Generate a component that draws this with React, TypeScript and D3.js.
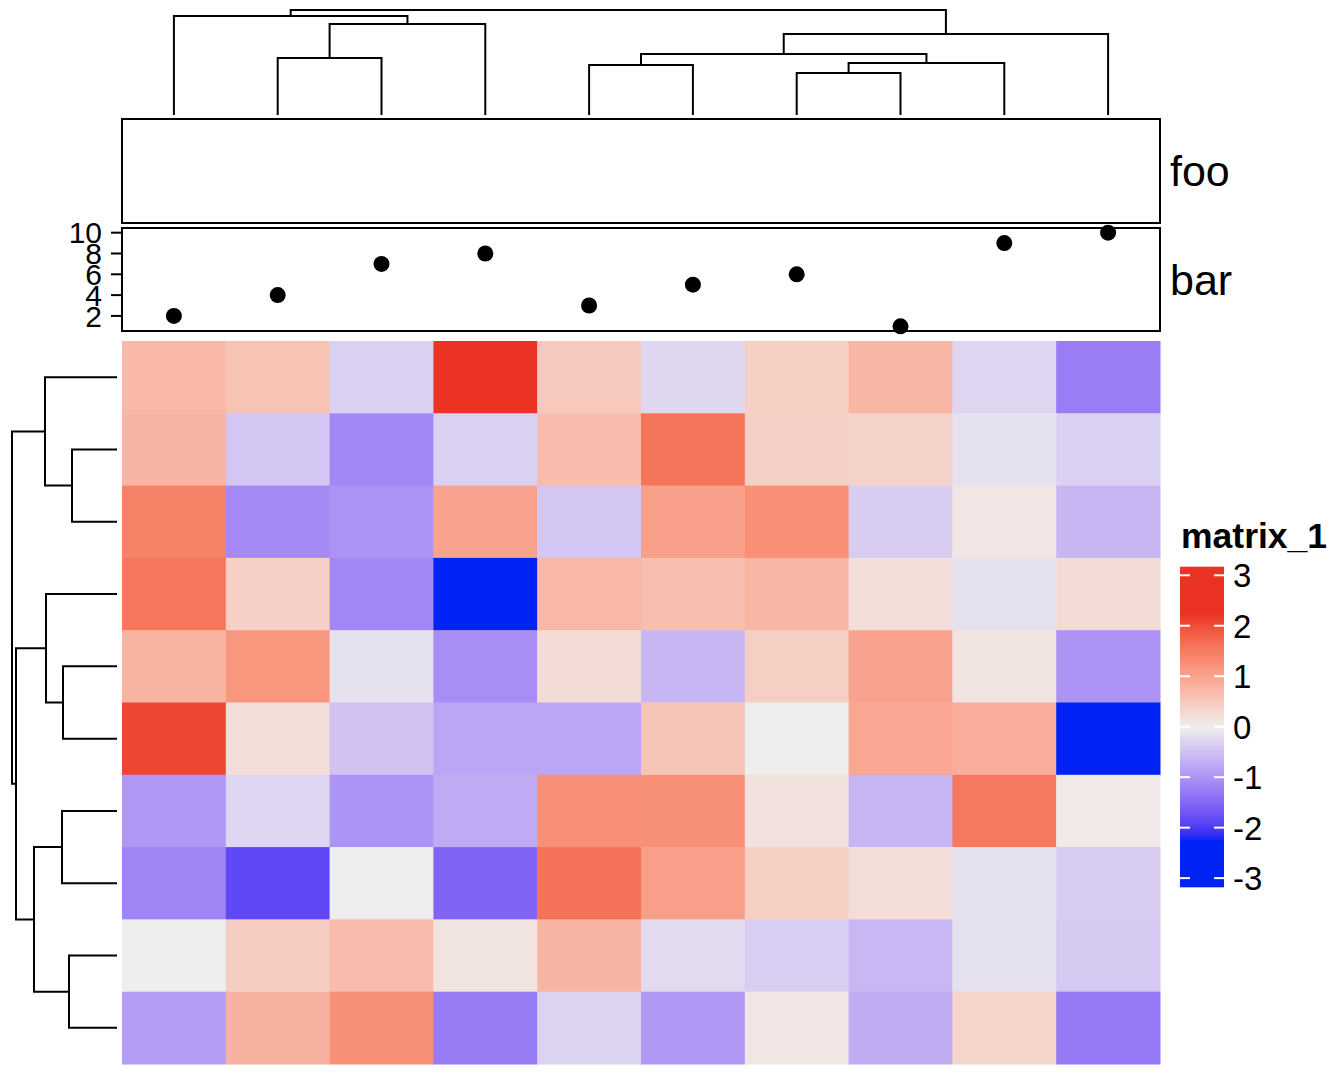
import React from "react";
import * as d3 from "d3";

// ---------- data ----------
// heatmap values, rows top->bottom, columns left->right (display order)
const matrix1: number[][] = [
  [0.72, 0.59, -0.32, 3.0, 0.5, -0.25, 0.43, 0.77, -0.27, -1.24],
  [0.79, -0.43, -1.13, -0.32, 0.68, 1.6, 0.41, 0.38, -0.14, -0.32],
  [1.44, -1.1, -1.01, 1.01, -0.43, 1.06, 1.28, -0.36, 0.11, -0.61],
  [1.58, 0.41, -1.13, -3.0, 0.74, 0.65, 0.77, 0.23, -0.14, 0.25],
  [0.81, 1.19, -0.14, -1.06, 0.25, -0.61, 0.43, 1.01, 0.14, -0.99],
  [2.09, 0.23, -0.47, -0.8, -0.8, 0.56, 0.02, 0.97, 0.9, -3.1],
  [-0.95, -0.27, -0.99, -0.74, 1.28, 1.26, 0.16, -0.63, 1.55, 0.07],
  [-1.17, -1.85, 0.01, -1.53, 1.64, 1.08, 0.43, 0.23, -0.14, -0.38],
  [0.0, 0.45, 0.68, 0.14, 0.79, -0.2, -0.34, -0.59, -0.14, -0.41],
  [-0.9, 0.83, 1.26, -1.26, -0.29, -0.95, 0.11, -0.72, 0.36, -1.28],
];

// "bar" annotation (points), one per column
const barValues = [2, 4, 7, 8, 3, 5, 6, 1, 9, 10];
const barAxisTicks = [2, 4, 6, 8, 10];

// column dendrogram (hclust-style: negative = leaf index+1, positive = merge step)
const colMerge: [number, number][] = [
  [-2, -3], [1, -4], [-1, 2], [-5, -6], [-7, -8], [5, -9], [4, 6], [7, -10], [3, 8],
];
const colHeights = [57, 91, 99, 50, 42, 52, 61, 81, 105];

// row dendrogram
const rowMerge: [number, number][] = [
  [-2, -3], [-1, 1], [-5, -6], [-4, 3], [-7, -8], [-9, -10], [5, 6], [4, 7], [2, 8],
];
const rowHeights = [45, 72, 54, 71, 55, 48, 83, 101, 105];

// legend
const legendTitle = "matrix_1";
const legendTicks = [-3, -2, -1, 0, 1, 2, 3];
const legendRange = [-3.17, 3.17];
const colorBreaks = [-2.25, 0, 2.25];
const colorStops = ["#0023F5", "#EEEEEE", "#EA3323"];

const annoNames = ["foo", "bar"];

// ---------- layout ----------
const W = 1344;
const H = 1076;
const hmLeft = 122, hmRight = 1160, hmTop = 341, hmBottom = 1064;
const fooTop = 119, fooBottom = 223;
const barTop = 228, barBottom = 331;
const FONT = "'Liberation Sans', Arial, Helvetica, sans-serif";

function buildDendro(
  merge: [number, number][],
  heights: number[],
  leafPos: (i: number) => number
) {
  const nodes: { p: number; h: number }[] = [];
  const segs: { a: { p: number; h: number }; b: { p: number; h: number }; h: number }[] = [];
  const get = (id: number) => (id < 0 ? { p: leafPos(-id - 1), h: 0 } : nodes[id - 1]);
  merge.forEach(([l, r], k) => {
    const a = get(l);
    const b = get(r);
    const node = { p: (a.p + b.p) / 2, h: heights[k] };
    nodes.push(node);
    segs.push({ a, b, h: heights[k] });
  });
  return segs;
}

export default function App() {
  const nCol = matrix1[0].length;
  const nRow = matrix1.length;
  const x = d3.scaleBand<number>().domain(d3.range(nCol)).range([hmLeft, hmRight]);
  const y = d3.scaleBand<number>().domain(d3.range(nRow)).range([hmTop, hmBottom]);

  const color = d3
    .scaleLinear<string>()
    .domain(colorBreaks)
    .range(colorStops)
    .interpolate(d3.interpolateLab)
    .clamp(true);

  // dendrogram scales
  const colH = d3.scaleLinear().domain([0, 105]).range([115, 10]);
  const rowH = d3.scaleLinear().domain([0, 105]).range([117, 12]);

  const colSegs = buildDendro(colMerge, colHeights, (i) => x(i)! + x.bandwidth() / 2);
  const rowSegs = buildDendro(rowMerge, rowHeights, (i) => y(i)! + y.bandwidth() / 2);

  const colPath = colSegs
    .map((s) => `M${s.a.p},${colH(s.a.h)}V${colH(s.h)}H${s.b.p}V${colH(s.b.h)}`)
    .join("");
  const rowPath = rowSegs
    .map((s) => `M${rowH(s.a.h)},${s.a.p}H${rowH(s.h)}V${s.b.p}H${rowH(s.b.h)}`)
    .join("");

  // bar annotation scale
  const ext = (d3.max(barValues)! - d3.min(barValues)!) * 0.05;
  const yBar = d3
    .scaleLinear()
    .domain([d3.min(barValues)! - ext, d3.max(barValues)! + ext])
    .range([barBottom, barTop]);

  // legend
  const legTop = 566.7, legBottom = 886.7, legLeft = 1180, legWidth = 44;
  const yLeg = d3.scaleLinear().domain(legendRange).range([legBottom, legTop]);
  const nSlices = 160;
  const sliceVals = d3.range(nSlices).map(
    (i) => legendRange[0] + ((i + 0.5) / nSlices) * (legendRange[1] - legendRange[0])
  );
  const sliceH = (legBottom - legTop) / nSlices;

  return (
    <svg
      width={W}
      height={H}
      style={{ position: "absolute", left: 0, top: 0, background: "#fff" }}
      fontFamily={FONT}
    >
      <rect x={0} y={0} width={W} height={H} fill="#fff" />

      {/* column dendrogram */}
      <path d={colPath} fill="none" stroke="#000" strokeWidth={2} />

      {/* row dendrogram */}
      <path d={rowPath} fill="none" stroke="#000" strokeWidth={2} />

      {/* heatmap cells */}
      <g>
        {matrix1.map((row, r) =>
          row.map((v, c) => (
            <rect
              key={`${r}-${c}`}
              x={x(c)}
              y={y(r)}
              width={x.bandwidth() + 0.5}
              height={y.bandwidth() + 0.5}
              fill={color(v)}
            />
          ))
        )}
      </g>

      {/* foo annotation (empty box) */}
      <rect
        x={hmLeft}
        y={fooTop}
        width={hmRight - hmLeft}
        height={fooBottom - fooTop}
        fill="none"
        stroke="#000"
        strokeWidth={2}
      />
      <text x={1170} y={(fooTop + fooBottom) / 2} dy="0.36em" fontSize={43} fill="#000">
        {annoNames[0]}
      </text>

      {/* bar annotation (points) */}
      <rect
        x={hmLeft}
        y={barTop}
        width={hmRight - hmLeft}
        height={barBottom - barTop}
        fill="none"
        stroke="#000"
        strokeWidth={2}
      />
      {barValues.map((v, i) => (
        <circle key={i} cx={x(i)! + x.bandwidth() / 2} cy={yBar(v)} r={8} fill="#000" />
      ))}
      <line x1={hmLeft} x2={hmLeft} y1={barTop} y2={barBottom} stroke="#000" strokeWidth={2} />
      {barAxisTicks.map((t) => (
        <g key={t}>
          <line x1={111} x2={hmLeft} y1={yBar(t)} y2={yBar(t)} stroke="#000" strokeWidth={2} />
          <text x={102} y={yBar(t)} dy="0.36em" textAnchor="end" fontSize={30} fill="#000">
            {t}
          </text>
        </g>
      ))}
      <text x={1170} y={(barTop + barBottom) / 2} dy="0.36em" fontSize={43} fill="#000">
        {annoNames[1]}
      </text>

      {/* legend */}
      <text x={1181} y={548} fontSize={35.5} fontWeight="bold" fill="#000">
        {legendTitle}
      </text>
      {sliceVals.map((v, i) => (
        <rect
          key={i}
          x={legLeft}
          y={legBottom - (i + 1) * sliceH}
          width={legWidth}
          height={sliceH + 0.6}
          fill={color(v)}
        />
      ))}
      {legendTicks.map((t) => (
        <g key={t}>
          <line x1={legLeft} x2={legLeft + 10} y1={yLeg(t)} y2={yLeg(t)} stroke="#fff" strokeWidth={2} />
          <line
            x1={legLeft + legWidth - 10}
            x2={legLeft + legWidth}
            y1={yLeg(t)}
            y2={yLeg(t)}
            stroke="#fff"
            strokeWidth={2}
          />
          <text x={1233} y={yLeg(t)} dy="0.36em" fontSize={33} fill="#000">
            {t}
          </text>
        </g>
      ))}
    </svg>
  );
}
